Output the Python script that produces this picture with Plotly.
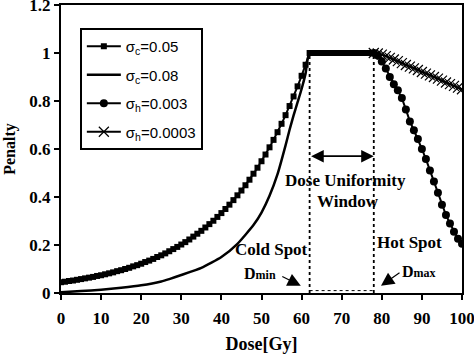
import plotly.graph_objects as go

# ---------------- data ----------------
cold_x = list(range(0, 79))
cold_005 = [0.045, 0.047, 0.050, 0.052, 0.055, 0.058, 0.061, 0.064, 0.067, 0.071,
            0.074, 0.078, 0.082, 0.086, 0.091, 0.095, 0.100, 0.105, 0.111, 0.116,
            0.122, 0.129, 0.135, 0.142, 0.150, 0.157, 0.165, 0.174, 0.183, 0.192,
            0.202, 0.212, 0.223, 0.235, 0.247, 0.259, 0.273, 0.287, 0.301, 0.317,
            0.333, 0.350, 0.368, 0.387, 0.407, 0.427, 0.449, 0.472, 0.497, 0.522,
            0.549, 0.577, 0.607, 0.638, 0.670, 0.705, 0.741, 0.779, 0.819, 0.861,
            0.905, 0.951, 1.0, 1.0, 1.0, 1.0, 1.0, 1.0, 1.0, 1.0,
            1.0, 1.0, 1.0, 1.0, 1.0, 1.0, 1.0, 1.0, 1.0]

cold2_x = [0, 5, 10, 15, 20, 25, 27, 30, 35, 40, 44, 48, 50, 52, 54, 56, 57, 58, 59, 60, 61, 62, 70, 78]
cold_008 = [0.003, 0.008, 0.014, 0.022, 0.032, 0.048, 0.058, 0.075, 0.105, 0.150, 0.205, 0.283,
            0.335, 0.405, 0.495, 0.615, 0.680, 0.740, 0.795, 0.850, 0.915, 1.0, 1.0, 1.0]

hot_x = list(range(78, 101))
hot_0003 = [1.0, 0.99, 0.965, 0.935, 0.90, 0.87, 0.845, 0.812, 0.765, 0.715, 0.678,
            0.642, 0.60, 0.558, 0.51, 0.465, 0.418, 0.368, 0.325, 0.29, 0.255, 0.226, 0.205]
hot_00003 = [1.0, 0.998, 0.993, 0.987, 0.980, 0.973, 0.966, 0.958, 0.950, 0.943, 0.936,
             0.929, 0.921, 0.914, 0.907, 0.900, 0.893, 0.885, 0.877, 0.870, 0.863, 0.856, 0.849]

names = ["σ<sub>c</sub>=0.05", "σ<sub>c</sub>=0.08", "σ<sub>h</sub>=0.003", "σ<sub>h</sub>=0.0003"]
x_ticks = [0, 10, 20, 30, 40, 50, 60, 70, 80, 90, 100]
y_ticks = [0, 0.2, 0.4, 0.6, 0.8, 1, 1.2]
y_ticklabels = ["0", "0.2", "0.4", "0.6", "0.8", "1", "1.2"]

d_min, d_max = 62, 78

# ---------------- figure ----------------
serif = "Liberation Serif"
fig = go.Figure()
fig.add_trace(go.Scatter(x=cold_x, y=cold_005, name=names[0], mode="lines+markers", legendgroup="a",
                         line=dict(color="black", width=2),
                         marker=dict(symbol="square", size=6, color="black")))
fig.add_trace(go.Scatter(x=cold2_x, y=cold_008, name=names[1], mode="lines", legendgroup="b",
                         line=dict(color="black", width=2.5, shape="spline", smoothing=0.5)))
fig.add_trace(go.Scatter(x=hot_x, y=hot_0003, name=names[2], mode="lines+markers", legendgroup="c",
                         line=dict(color="black", width=2),
                         marker=dict(symbol="circle", size=8, color="black")))
fig.add_trace(go.Scatter(x=hot_x, y=hot_00003, name=names[3], mode="lines+markers", legendgroup="d",
                         line=dict(color="black", width=2),
                         marker=dict(symbol="x-thin", size=10, color="black",
                                     line=dict(color="black", width=1.2))))

# dotted window lines
for xv in (d_min, d_max):
    fig.add_shape(type="line", x0=xv, x1=xv, y0=0, y1=1, xref="x", yref="y",
                  line=dict(color="black", width=1.8, dash="dot"))
fig.add_shape(type="line", x0=d_min, x1=d_max, y0=0.01, y1=0.01, xref="x", yref="y",
              line=dict(color="black", width=1, dash="dot"))

ann_font = dict(family=serif, size=17, color="black")
# double arrow
fig.add_annotation(x=d_max, y=0.57, ax=d_min, ay=0.57, xref="x", yref="y", axref="x", ayref="y",
                   text="", showarrow=True, arrowhead=2, arrowside="end+start",
                   arrowsize=1.4, arrowwidth=1.8, arrowcolor="black")
fig.add_annotation(x=71, y=0.47, text="<b>Dose Uniformity</b>", showarrow=False, font=ann_font)
fig.add_annotation(x=71.5, y=0.38, text="<b>Window</b>", showarrow=False, font=ann_font)
fig.add_annotation(x=52.4, y=0.18, text="<b>Cold Spot</b>", showarrow=False, font=ann_font)
fig.add_annotation(x=86.9, y=0.21, text="<b>Hot Spot</b>", showarrow=False, font=ann_font)
fig.add_annotation(x=49.6, y=0.08, text="<b>D<span style='font-size:12px'>min</span></b>",
                   showarrow=False, font=dict(family=serif, size=16, color="black"))
fig.add_annotation(x=89.4, y=0.088, text="<b>D<span style='font-size:12px'>max</span></b>",
                   showarrow=False, font=dict(family=serif, size=16, color="black"))
# arrows toward Dmin / Dmax
fig.add_annotation(x=59.8, y=0.03, ax=-20, ay=-10, text="", showarrow=True, arrowhead=2,
                   arrowsize=2.2, arrowwidth=1.2, arrowcolor="black", xref="x", yref="y")
fig.add_annotation(x=79.8, y=0.03, ax=20, ay=-14, text="", showarrow=True, arrowhead=2,
                   arrowsize=2.2, arrowwidth=1.2, arrowcolor="black", xref="x", yref="y")

fig.update_layout(
    width=474, height=355,
    margin=dict(l=61, r=12, t=5, b=62),
    paper_bgcolor="white", plot_bgcolor="white",
    font=dict(family=serif, color="black"),
    showlegend=True,
    legend=dict(x=0.047, y=0.92, xanchor="left", yanchor="top",
                bordercolor="black", borderwidth=2, bgcolor="white",
                font=dict(family="Liberation Sans", size=15, color="black"),
                itemwidth=34, tracegroupgap=6),
    xaxis=dict(range=[0, 100], tickmode="array", tickvals=x_ticks,
               ticktext=[f"<b>{v}</b>" for v in x_ticks], automargin=False,
               ticklabeloverflow="allow", ticklabelstandoff=4,
               ticks="outside", ticklen=5, tickwidth=2, tickcolor="black",
               showline=True, linecolor="black", linewidth=2, mirror=True,
               showgrid=False, zeroline=False,
               tickfont=dict(family=serif, size=17, color="black"),
               title=dict(text="<b>Dose[Gy]</b>", font=dict(family=serif, size=18), standoff=10)),
    yaxis=dict(range=[0, 1.2], tickmode="array", tickvals=y_ticks,
               ticktext=[f"<b>{t}</b>" for t in y_ticklabels], automargin=False,
               ticklabeloverflow="allow",
               ticks="outside", ticklen=5, tickwidth=2, tickcolor="black",
               showline=True, linecolor="black", linewidth=2, mirror=True,
               showgrid=False, zeroline=False,
               tickfont=dict(family=serif, size=17, color="black"),
               title=dict(text="<b>Penalty</b>", font=dict(family=serif, size=16), standoff=10)),
)

fig.write_html("out.html", config={"displayModeBar": False},
               post_script="document.body.style.margin='0';")
